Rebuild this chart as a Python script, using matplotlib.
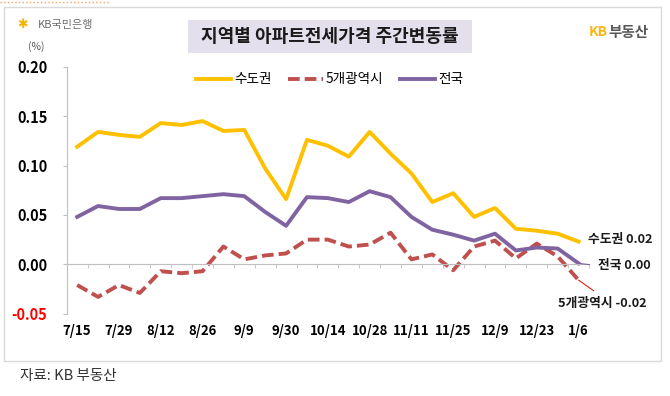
import numpy as np
import matplotlib
matplotlib.use("Agg")
import matplotlib.pyplot as plt
from matplotlib.patches import Rectangle
from matplotlib.lines import Line2D
from matplotlib.ticker import FixedLocator

plt.rcParams['font.family'] = ['Noto Sans CJK KR', 'DejaVu Sans']
plt.rcParams['axes.unicode_minus'] = False

# weekly survey dates (Chuseok week 9/16 skipped)
weeks = ['7/15', '7/22', '7/29', '8/5', '8/12', '8/19', '8/26', '9/2', '9/9',
         '9/23', '9/30', '10/7', '10/14', '10/21', '10/28', '11/4', '11/11',
         '11/18', '11/25', '12/2', '12/9', '12/16', '12/23', '12/30', '1/6']

series_names = ['수도권', '5개광역시', '전국']

capital = [0.119, 0.134, 0.131, 0.129, 0.143, 0.141, 0.145, 0.135, 0.136,
           0.097, 0.066, 0.126, 0.120, 0.109, 0.134, 0.112, 0.092, 0.063,
           0.072, 0.048, 0.057, 0.036, 0.034, 0.031, 0.023]
metro5 = [-0.021, -0.033, -0.021, -0.029, -0.007, -0.009, -0.007, 0.018, 0.005,
          0.009, 0.011, 0.025, 0.025, 0.018, 0.020, 0.032, 0.005, 0.010,
          -0.006, 0.018, 0.024, 0.006, 0.021, 0.008, -0.016]
nation = [0.048, 0.059, 0.056, 0.056, 0.067, 0.067, 0.069, 0.071, 0.069,
          0.053, 0.039, 0.068, 0.067, 0.063, 0.074, 0.068, 0.048, 0.035,
          0.030, 0.024, 0.031, 0.014, 0.017, 0.016, 0.001]

y_ticks = [-0.05, 0.0, 0.05, 0.10, 0.15, 0.20]

colors = ['#FFC000', '#C0504D', '#8064A2']

fig = plt.figure(figsize=(6.7, 3.96), dpi=100)
ax = fig.add_axes([0.0996, 0.2078, 0.7795, 0.6237])

x = np.arange(len(weeks))
l1, = ax.plot(x, capital, color=colors[0], lw=2.8, solid_joinstyle='round')
l2, = ax.plot(x, metro5, color=colors[1], lw=2.8, ls=(0, (3, 1.3)),
              dash_capstyle='butt')
l3, = ax.plot(x, nation, color=colors[2], lw=2.8, solid_joinstyle='round')

ax.set_xlim(-0.5, len(weeks) - 0.5)
ax.set_ylim(y_ticks[0], y_ticks[-1])

# axes styling
for s in ['top', 'right']:
    ax.spines[s].set_visible(False)
ax.spines['left'].set_color('#BFBFBF')
ax.spines['bottom'].set_color('#BFBFBF')
ax.spines['bottom'].set_position(('data', 0))

ax.set_yticks(y_ticks)
ax.set_yticklabels([f'{v:.2f}' for v in y_ticks], fontsize=10.5, fontweight='bold')
for lbl in ax.get_yticklabels():
    if lbl.get_text().startswith('-'):
        lbl.set_color('#FF0000')
ax.tick_params(axis='y', length=3, color='#BFBFBF', pad=11)

ax.set_xticks(x[::2])
ax.set_xticklabels(weeks[::2], fontsize=9.5, fontweight='bold')
ax.xaxis.set_minor_locator(FixedLocator(np.arange(len(weeks) + 1) - 0.5))
ax.tick_params(axis='x', which='major', length=0, pad=43)
ax.tick_params(axis='x', which='minor', length=3, color='#BFBFBF')

# end-of-line labels
ax.annotate(f'{series_names[0]} {capital[-1]:.2f}', xy=(x[-1], capital[-1]),
            xytext=(6.8, 1.2), textcoords='offset points', ha='left', va='center',
            fontsize=9.2, fontweight='bold', color='#1a1a1a')
ax.annotate(f'{series_names[2]} {nation[-1]:.2f}', xy=(x[-1], nation[-1]),
            xytext=(14, -1.7), textcoords='offset points', ha='left', va='center',
            fontsize=9.2, fontweight='bold', color='#1a1a1a',
            arrowprops=dict(arrowstyle='-', color=colors[2], lw=0.8,
                            relpos=(0, 0.5), shrinkA=4, shrinkB=0))
ax.annotate(f'{series_names[1]} {metro5[-1]:.2f}', xy=(x[-1], metro5[-1]),
            xytext=(17, -16.6), textcoords='offset points', ha='center', va='center',
            fontsize=9.2, fontweight='bold', color='#1a1a1a',
            arrowprops=dict(arrowstyle='-', color='#E0201B', lw=0.8,
                            relpos=(0.5, 1), shrinkA=4, shrinkB=0))

fig.legend([l1, l2, l3], series_names, loc='center', bbox_to_anchor=(0.4916, 0.7997),
           ncol=3, frameon=False, fontsize=9.8, handlelength=2.6,
           handletextpad=0.2, columnspacing=1.2)

# title box
fig.add_artist(Rectangle((0.2806, 0.8662), 0.4239, 0.0833, transform=fig.transFigure,
                         facecolor='#E4DFEC', edgecolor='none'))
fig.text(0.4925, 0.9078, '지역별 아파트전세가격 주간변동률', ha='center', va='center',
         fontsize=13, fontweight='bold', color='#1a1a1a')

# outer frame and web artifacts
fig.add_artist(Rectangle((0.006, 0.0884), 0.9806, 0.8939, transform=fig.transFigure,
                         fill=False, edgecolor='#D9D9D9', lw=1))
fig.add_artist(Line2D([0, 0.164], [0.995, 0.995], transform=fig.transFigure,
                      color='#F4A460', ls=':', lw=1))

# logos
fig.text(0.0328, 0.9369, '✱', ha='center', va='center', fontsize=9,
         color='#F5B301', family='DejaVu Sans')
fig.text(0.0567, 0.9369, 'KB국민은행', ha='left', va='center', fontsize=8,
         color='#6E6E6E')
fig.text(0.0548, 0.882, '(%)', ha='center', va='center', fontsize=7.5, color='#595959')
fig.text(0.9064, 0.92, 'KB', ha='right', va='center', fontsize=10,
         color='#FDB515', fontweight='bold')
fig.text(0.9075, 0.92, '부동산', ha='left', va='center', fontsize=10.5,
         color='#595959', fontweight='bold')

fig.text(0.0299, 0.0505, '자료: KB 부동산', ha='left', va='center', fontsize=10.5,
         color='#333333')

fig.savefig('out.png', dpi=100)
